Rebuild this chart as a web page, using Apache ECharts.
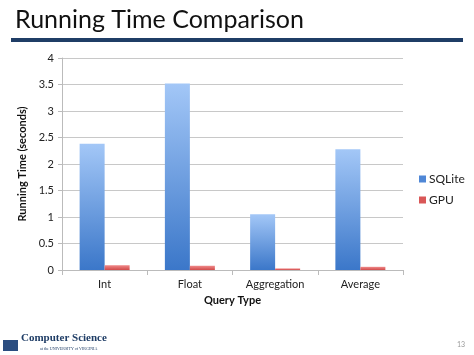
<!DOCTYPE html>
<html><head><meta charset="utf-8">
<script src="https://cdn.jsdelivr.net/npm/echarts@6/dist/echarts.min.js"></script>
<style>html,body{margin:0;padding:0;background:#fff}#c{width:474px;height:355px}</style>
</head><body><div id="c"></div>
<script>
const categories = ['Int', 'Float', 'Aggregation', 'Average'];
const sqliteValues = [2.38, 3.52, 1.05, 2.28];
const gpuValues = [0.09, 0.08, 0.03, 0.06];
const yTicks = [0, 0.5, 1, 1.5, 2, 2.5, 3, 3.5, 4];

const chart = echarts.init(document.getElementById('c'));
const font = 'Lato, "Open Sans", sans-serif';
chart.setOption({
  animation: false,
  graphic: [
    {type: 'text', left: 15, top: 7, style: {text: 'Running Time Comparison', font: '25px ' + font, fill: '#111'}},
    {type: 'rect', shape: {x: 11, y: 38, width: 452, height: 4}, style: {fill: '#1f3d66'}},
    {type: 'rect', shape: {x: 3, y: 340, width: 15, height: 11}, style: {fill: '#2a4d80'}},
    {type: 'text', left: 21, top: 333, style: {text: 'Computer Science', font: 'bold 11px "Liberation Serif", serif', fill: '#1f3d66'}},
    {type: 'text', left: 40, top: 347, style: {text: 'at the UNIVERSITY of VIRGINIA', font: '4px "Liberation Serif", serif', fill: '#1f3d66'}},
    {type: 'text', left: 457, top: 341, style: {text: '13', font: '7px ' + font, fill: '#999'}}
  ],
  legend: {
    orient: 'vertical', left: 414, top: 168, itemWidth: 7, itemHeight: 7, itemGap: 9,
    icon: 'rect',
    textStyle: {fontFamily: font, fontSize: 12, color: '#222', padding: [0,0,0,-2]},
    data: [{name: 'SQLite', itemStyle: {color: '#4f87d6'}}, {name: 'GPU', itemStyle: {color: '#d95757'}}]
  },
  grid: {left: 62, right: 71, top: 58, bottom: 85},
  xAxis: {
    type: 'category', data: categories,
    name: 'Query Type', nameLocation: 'middle', nameGap: 23,
    nameTextStyle: {fontFamily: font, fontSize: 11, fontWeight: 'bold', color: '#111'},
    axisLine: {lineStyle: {color: '#bbb'}},
    axisTick: {show: true, length: 5, lineStyle: {color: '#bbb'}},
    axisLabel: {fontFamily: font, fontSize: 11, color: '#222', margin: 9}
  },
  yAxis: {
    type: 'value', min: 0, max: 4, interval: 0.5,
    name: 'Running Time (seconds)', nameLocation: 'middle', nameGap: 29,
    nameTextStyle: {fontFamily: font, fontSize: 11, fontWeight: 'bold', color: '#111'},
    axisLine: {show: true, lineStyle: {color: '#bbb'}},
    axisTick: {show: true, length: 4, lineStyle: {color: '#bbb'}},
    splitLine: {lineStyle: {color: '#c8c8c8'}},
    axisLabel: {fontFamily: font, fontSize: 11, color: '#222', margin: 8,
      formatter: v => (yTicks.indexOf(v) >= 0 ? String(v) : '')}
  },
  series: [
    {name: 'SQLite', type: 'bar', data: sqliteValues, barWidth: 25, barGap: '0%',
     itemStyle: {color: new echarts.graphic.LinearGradient(0, 0, 0, 1, [{offset: 0, color: '#a3c7f7'}, {offset: 1, color: '#3b77c9'}])}},
    {name: 'GPU', type: 'bar', data: gpuValues, barWidth: 25,
     itemStyle: {color: new echarts.graphic.LinearGradient(0, 0, 0, 1, [{offset: 0, color: '#f08a8a'}, {offset: 1, color: '#d04a4a'}])}}
  ]
});
</script></body></html>
